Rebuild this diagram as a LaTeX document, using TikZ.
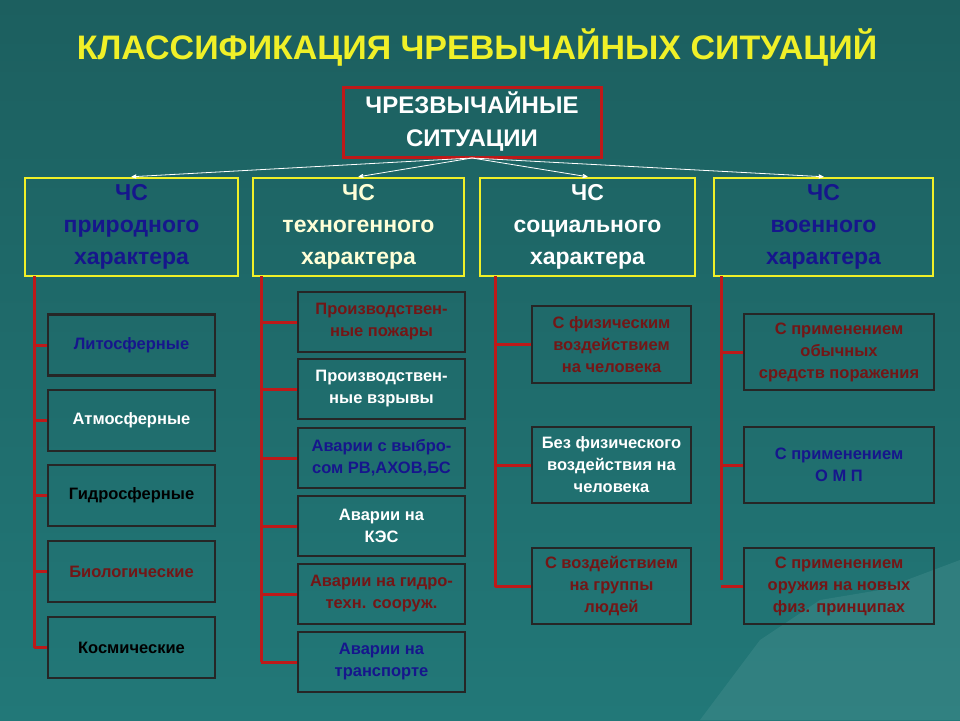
\documentclass[tikz,border=0pt]{standalone}
\usepackage{fontspec}
\setmainfont{Liberation Sans}
\usetikzlibrary{arrows,calc,positioning}
\definecolor{bgtop}{RGB}{28,95,95}
\definecolor{bgbot}{RGB}{34,120,120}
\definecolor{dred}{RGB}{115,22,22}
\definecolor{dblue}{RGB}{22,22,140}
\definecolor{lyel}{RGB}{255,255,215}
\definecolor{ylw}{RGB}{240,240,40}
\definecolor{trunk}{RGB}{190,25,25}
\begin{document}
\begin{tikzpicture}[x=1pt,y=-1pt,>=stealth',font=\bfseries,
    head/.style={draw=ylw,line width=2.5pt,align=center,font=\bfseries\fontsize{23}{32}\selectfont,inner sep=0pt},
    item/.style={draw=black!85,line width=2.5pt,align=center,font=\bfseries\fontsize{16.5}{22}\selectfont,inner sep=0pt},
    link/.style={draw=trunk,line width=3pt}]
    \shade[top color=bgtop,bottom color=bgbot] (0,0) rectangle (960,720);
    \useasboundingbox (0,0) rectangle (960,720);
    \fill[bgbot!80!white,opacity=.35] (700,720) -- (760,640) -- (820,600) -- (880,590) -- (960,560) -- (960,720) -- cycle;
    \node[text=ylw,font=\bfseries\fontsize{34}{38}\selectfont] (title) at (477,47) {КЛАССИФИКАЦИЯ ЧРЕВЫЧАЙНЫХ СИТУАЦИЙ};
    \node[draw=trunk,line width=3pt,align=center,text=white,minimum width=258pt,minimum height=70pt,inner sep=0pt,font=\bfseries\fontsize{24}{33}\selectfont] (root) at (472,122) {ЧРЕЗВЫЧАЙНЫЕ\\СИТУАЦИИ};
    % headers
    \node[head,text=dblue,minimum width=213pt,minimum height=98pt] (nat) at (131.5,227) {ЧС\\природного\\характера};
    \node[head,text=lyel,minimum width=211pt,minimum height=98pt] (tech) at (358.5,227) {ЧС\\техногенного\\характера};
    \node[head,text=white,minimum width=215pt,minimum height=98pt] (soc) at (587.5,227) {ЧС\\социального\\характера};
    \node[head,text=dblue,minimum width=219pt,minimum height=98pt] (mil) at (823.5,227) {ЧС\\военного\\характера};
    \coordinate (fan) at (472,158);
    \foreach \h in {nat,tech,soc,mil}
        \draw[->,white,line width=.8pt] (fan) -- (\h.north);
    % natural
    \node[item,text=dblue,minimum width=167pt,minimum height=61pt] (lit) at (131.5,345) {Литосферные};
    \node[item,text=white,minimum width=167pt,minimum height=61pt] (atm) at (131.5,420.5) {Атмосферные};
    \node[item,text=black,minimum width=167pt,minimum height=61pt] (hyd) at (131.5,495.5) {Гидросферные};
    \node[item,text=dred,minimum width=167pt,minimum height=61pt] (bio) at (131.5,571.5) {Биологические};
    \node[item,text=black,minimum width=167pt,minimum height=61pt] (cos) at (131.5,647.5) {Космические};
    \draw[link] (34,276) -- (34,648);
    \foreach \n in {lit,atm,hyd,bio,cos}
        \draw[link] (34,0 |- \n.west) -- (\n.west);
    % technogenic
    \node[item,text=dred,minimum width=167pt,minimum height=60pt] (fire) at (381.5,322) {Производствен-\\ные пожары};
    \node[item,text=white,minimum width=167pt,minimum height=60pt] (expl) at (381.5,389) {Производствен-\\ные взрывы};
    \node[item,text=dblue,minimum width=167pt,minimum height=60pt] (rel) at (381.5,458) {Аварии с выбро-\\сом РВ,АХОВ,БС};
    \node[item,text=white,minimum width=167pt,minimum height=60pt] (kes) at (381.5,526) {Аварии на\\КЭС};
    \node[item,text=dred,minimum width=167pt,minimum height=60pt] (hydro) at (381.5,594) {Аварии на гидро-\\техн. сооруж.};
    \node[item,text=dblue,minimum width=167pt,minimum height=60pt] (trans) at (381.5,662) {Аварии на\\транспорте};
    \draw[link] (261,276) -- (261,662);
    \foreach \n in {fire,expl,rel,kes,hydro,trans}
        \draw[link] (261,0 |- \n.west) -- (\n.west);
    % social
    \node[item,text=dred,minimum width=159pt,minimum height=77pt] (phys) at (611.5,344.5) {С физическим\\воздействием\\на человека};
    \node[item,text=white,minimum width=159pt,minimum height=76pt] (nophys) at (611.5,465) {Без физического\\воздействия на\\человека};
    \node[item,text=dred,minimum width=159pt,minimum height=76pt] (grp) at (611.5,586) {С воздействием\\на группы\\людей};
    \draw[link] (495,276) -- (495,587);
    \foreach \n in {phys,nophys,grp}
        \draw[link] (495,0 |- \n.west) -- (\n.west);
    % military
    \node[item,text=dred,minimum width=190pt,minimum height=76pt] (conv) at (839,352) {С применением\\обычных\\средств поражения};
    \node[item,text=dblue,minimum width=190pt,minimum height=76pt] (wmd) at (839,465) {С применением\\О М П};
    \node[item,text=dred,minimum width=190pt,minimum height=76pt] (newp) at (839,586) {С применением\\оружия на новых\\физ. принципах};
    \draw[link] (721,276) -- (721,580);
    \foreach \n in {conv,wmd,newp}
        \draw[link] (721,0 |- \n.west) -- (\n.west);
\end{tikzpicture}
\end{document}
